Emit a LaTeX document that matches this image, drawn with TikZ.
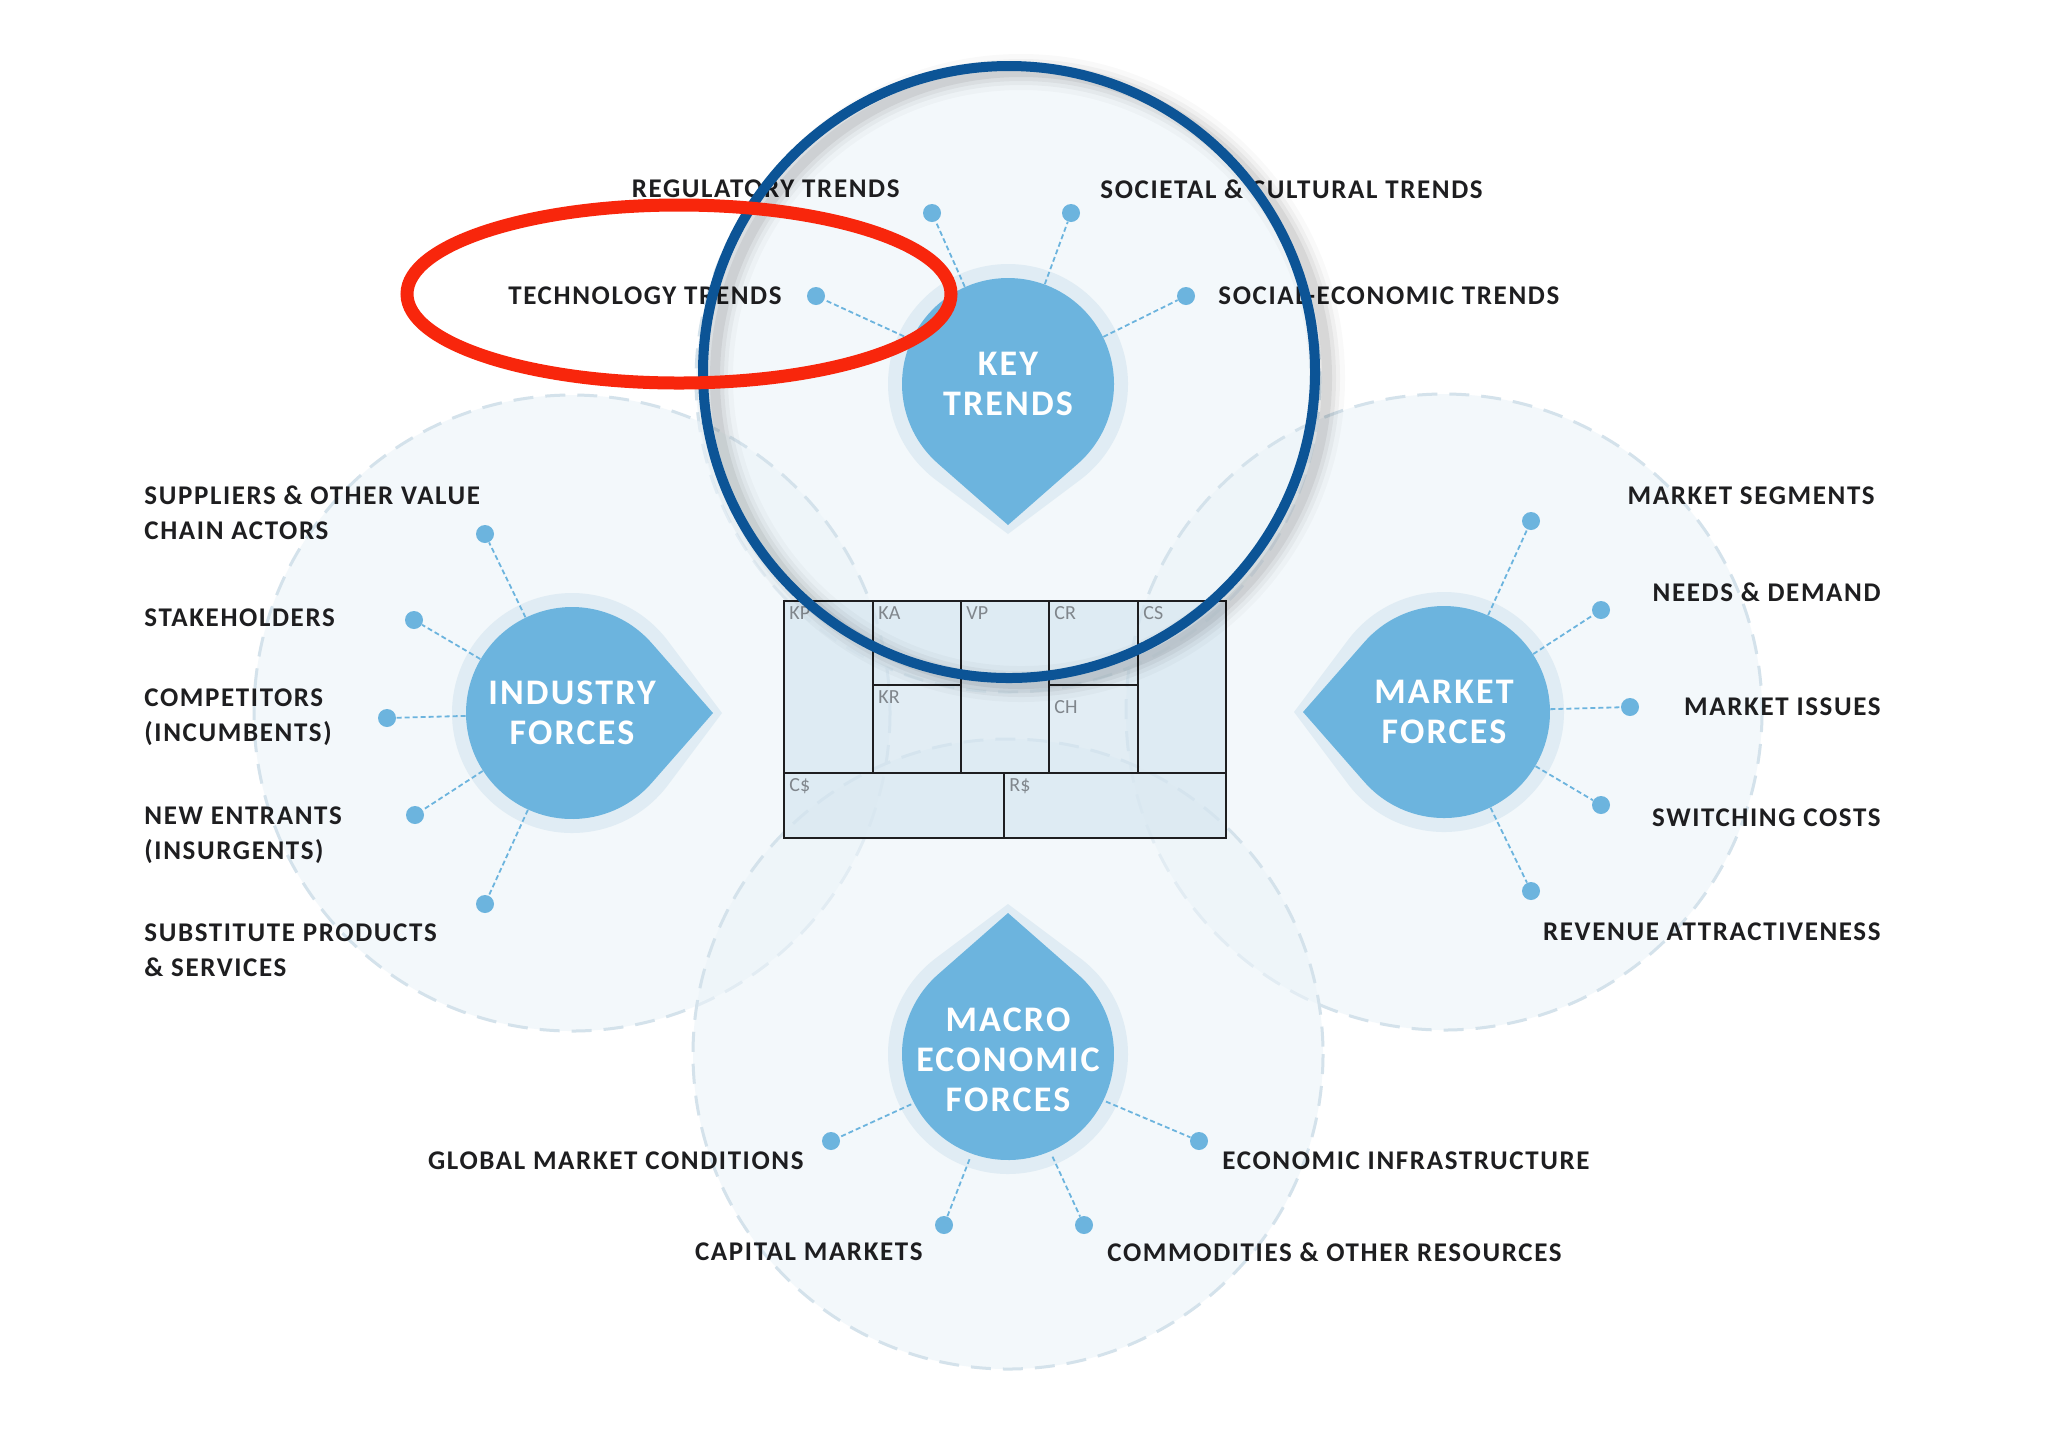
\documentclass[tikz,border=0pt]{standalone}
\usepackage{fontspec}
\setmainfont{Carlito}
\newfontfamily\tagfont[LetterSpace=6]{Carlito}
\usepackage{tikz}
\usetikzlibrary{calc}

\definecolor{dropblue}{RGB}{108,180,222}
\definecolor{halo}{RGB}{224,236,244}
\definecolor{faintfill}{RGB}{236,244,249}
\definecolor{faintline}{RGB}{212,226,235}
\definecolor{ringblue}{RGB}{12,84,150}
\definecolor{markred}{RGB}{248,38,12}
\definecolor{ink}{RGB}{30,30,32}
\definecolor{canvasfill}{RGB}{214,230,240}
\definecolor{cellgray}{RGB}{128,134,140}

% teardrop: #1 centre, #2 angle of the tip
\newcommand{\forcedrop}[2]{%
  \fill[halo] ($(#1)+(#2:150)$) -- ($(#1)+(#2+37:120)$)
    arc[start angle=#2+37, end angle=#2+323, radius=120] -- cycle;
  \fill[dropblue] ($(#1)+(#2:141)$) -- ($(#1)+(#2+41.2:106)$)
    arc[start angle=#2+41.2, end angle=#2+318.8, radius=106] -- cycle;
}

\begin{document}
\begin{tikzpicture}[
        x=0.5pt, y=-0.5pt,
        zone/.style={fill=faintfill, fill opacity=0.6, draw=faintline, line width=1.5pt, dash pattern=on 10pt off 6pt},
        core/.style={circle, minimum size=106pt, inner sep=0pt, text=white, align=center,
            font=\tagfont\bfseries\fontsize{18}{20}\selectfont},
        dot/.style={circle, fill=dropblue, minimum size=9pt, inner sep=0pt},
        link/.style={dropblue, line width=0.9pt, dash pattern=on 2.5pt off 1.5pt},
        tag/.style={inner sep=0pt, text=ink, font=\tagfont\bfseries\fontsize{13.5}{17.5}\selectfont},
        cell/.style={anchor=north west, inner sep=2.5pt, text=cellgray, font=\fontsize{10}{10}\selectfont}
    ]
        \fill[white] (0,0) rectangle (2048,1448);
        \useasboundingbox (0,0) rectangle (2048,1448);

        % Centres of the four drops
        \coordinate (ktc) at (1008,384);
        \coordinate (indc) at (572,713);
        \coordinate (mktc) at (1444,712);
        \coordinate (macc) at (1008,1054);

        % Faint zones behind the drops
        \draw[zone] (1008,380) circle[radius=312];
        \draw[zone] (indc) circle[radius=318];
        \draw[zone] (mktc) circle[radius=318];
        \draw[zone] (macc) circle[radius=315];

        % Business model canvas in the middle
        \filldraw[fill=canvasfill, fill opacity=0.7, draw=ink, line width=1.1pt] (784,601) rectangle (1226,838);
        \draw[ink, line width=1.1pt]
            (873,601) -- (873,773) (961,601) -- (961,773) (1049,601) -- (1049,773) (1138,601) -- (1138,773)
            (784,773) -- (1226,773) (873,685) -- (961,685) (1049,685) -- (1138,685) (1004,773) -- (1004,838);
        \node[cell] (kp) at (784,601) {KP};
        \node[cell] (ka) at (873,601) {KA};
        \node[cell] (vp) at (961,601) {VP};
        \node[cell] (cr) at (1049,601) {CR};
        \node[cell] (cs) at (1138,601) {CS};
        \node[cell] (kr) at (873,685) {KR};
        \node[cell] (ch) at (1049,695) {CH};
        \node[cell] (cost) at (784,773) {C\$};
        \node[cell] (rev) at (1004,773) {R\$};

        % Drops, all pointing at the canvas
        \forcedrop{ktc}{90}
        \forcedrop{indc}{0}
        \forcedrop{mktc}{180}
        \forcedrop{macc}{-90}
        \node[core] (kt) at (ktc) {KEY\\TRENDS};
        \node[core] (ind) at (indc) {INDUSTRY\\FORCES};
        \node[core] (mkt) at (mktc) {MARKET\\FORCES};
        \node[core] (mac) at ($(macc)+(0,6)$) {MACRO\\ECONOMIC\\FORCES};

        % Key trends
        \node[dot] (dreg) at (932,213) {};
        \node[dot] (dsoc) at (1071,213) {};
        \node[dot] (dtec) at (816,296) {};
        \node[dot] (dsec) at (1186,296) {};
        \foreach \d in {dreg, dsoc, dtec, dsec}
            \draw[link] (kt) -- (\d);
        \node[tag, anchor=east] (treg) at (900,189) {REGULATORY TRENDS};
        \node[tag, anchor=west] (tsoc) at (1100,189) {SOCIETAL \& CULTURAL TRENDS};
        \node[tag, anchor=east] (ttec) at (782,296) {TECHNOLOGY TRENDS};
        \node[tag, anchor=west] (tsec) at (1218,296) {SOCIAL-ECONOMIC TRENDS};

        % Industry forces
        \node[dot] (dsup) at (485,534) {};
        \node[dot] (dsta) at (414,620) {};
        \node[dot] (dcom) at (387,718) {};
        \node[dot] (dnew) at (415,815) {};
        \node[dot] (dsub) at (485,904) {};
        \foreach \d in {dsup, dsta, dcom, dnew, dsub}
            \draw[link] (ind) -- (\d);
        \node[tag, anchor=west, align=left] (tsup) at (144,513) {SUPPLIERS \& OTHER VALUE\\CHAIN ACTORS};
        \node[tag, anchor=west, align=left] (tsta) at (144,618) {STAKEHOLDERS};
        \node[tag, anchor=west, align=left] (tcom) at (144,717) {COMPETITORS\\(INCUMBENTS)};
        \node[tag, anchor=west, align=left] (tnew) at (144,835) {NEW ENTRANTS\\(INSURGENTS)};
        \node[tag, anchor=west, align=left] (tsub) at (144,950) {SUBSTITUTE PRODUCTS\\\& SERVICES};

        % Market forces
        \node[dot] (dseg) at (1531,521) {};
        \node[dot] (dnee) at (1601,610) {};
        \node[dot] (diss) at (1630,707) {};
        \node[dot] (dswi) at (1601,805) {};
        \node[dot] (drev) at (1531,891) {};
        \foreach \d in {dseg, dnee, diss, dswi, drev}
            \draw[link] (mkt) -- (\d);
        \node[tag, anchor=east] (tseg) at (1875,496) {MARKET SEGMENTS};
        \node[tag, anchor=east] (tnee) at (1881,592) {NEEDS \& DEMAND};
        \node[tag, anchor=east] (tiss) at (1881,707) {MARKET ISSUES};
        \node[tag, anchor=east] (tswi) at (1881,818) {SWITCHING COSTS};
        \node[tag, anchor=east] (trev) at (1881,932) {REVENUE ATTRACTIVENESS};

        % Macro-economic forces
        \node[dot] (dglo) at (831,1141) {};
        \node[dot] (deco) at (1199,1141) {};
        \node[dot] (dcap) at (944,1225) {};
        \node[dot] (dcmd) at (1084,1225) {};
        \foreach \d in {dglo, deco, dcap, dcmd}
            \draw[link] (mac) -- (\d);
        \node[tag, anchor=east] (tglo) at (804,1161) {GLOBAL MARKET CONDITIONS};
        \node[tag, anchor=west] (teco) at (1222,1161) {ECONOMIC INFRASTRUCTURE};
        \node[tag, anchor=east] (tcap) at (923,1252) {CAPITAL MARKETS};
        \node[tag, anchor=west] (tcmd) at (1107,1252) {COMMODITIES \& OTHER RESOURCES};

        % Magnifier ring with a soft shadow to the lower right
        \foreach \w/\o in {18/0.025, 13/0.035, 9/0.045, 5/0.06}
            \draw[black, line width=\w pt, opacity=\o] (1021,378) circle[radius=306];
        \draw[ringblue, line width=5pt] (1009,372) circle[radius=306];

        % Red mark round technology trends
        \draw[markred, line width=6.5pt] (679,294) ellipse[x radius=272, y radius=89];
\end{tikzpicture}
\end{document}
